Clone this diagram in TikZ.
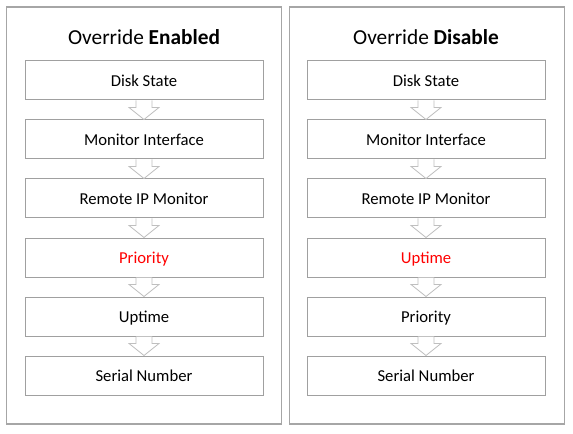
\documentclass[tikz,border=0pt]{standalone}
\usepackage{fontspec}
\setmainfont{Carlito}
\usetikzlibrary{positioning, calc}
\definecolor{framegray}{HTML}{A6A6A6}
\definecolor{boxgray}{HTML}{A0A0A0}
\definecolor{arrowgray}{HTML}{BFBFBF}
\tikzset{
	frame/.style={rectangle, draw=framegray, line width=1pt, minimum width=206.25pt, minimum height=312.75pt},
	stepbox/.style={rectangle, draw=boxgray, line width=0.75pt, minimum width=178.5pt, minimum height=29.25pt, text height=11pt, text depth=1.5pt, font=\fontsize{12.5}{15}\selectfont},
	title/.style={font=\fontsize{16}{19}\selectfont},
	hot/.style={text=red},
	blockarrow/.style={draw=arrowgray, fill=white, line width=0.6pt, line join=miter}
}
% block arrow from the bottom of #1 to the top of #2
\newcommand{\flowarrow}[2]{%
	\draw[blockarrow] ($(#1.south)+(-8,0)$) -- ($(#1.south)+(-8,7)$) -- ($(#1.south)+(-15,7)$) -- (#2.north) -- ($(#1.south)+(15,7)$) -- ($(#1.south)+(8,7)$) -- ($(#1.south)+(8,0)$);%
}

\begin{document}
\begin{tikzpicture}[x=0.75pt, y=-0.75pt]
	\useasboundingbox (0,0) rectangle (573,434);
	
	% left column
	\node [frame] (enabled) at (144,215.5) {};
	\node [title] (tenabled) at (144,37) {Override \textbf{Enabled}};
	\node [stepbox] (disk1) at (144,80.5) {Disk State};
	\node [stepbox, below = 14.25pt of disk1] (monitor1) {Monitor Interface};
	\node [stepbox, below = 14.25pt of monitor1] (remote1) {Remote IP Monitor};
	\node [stepbox, hot, below = 14.25pt of remote1] (priority1) {Priority};
	\node [stepbox, below = 14.25pt of priority1] (uptime1) {Uptime};
	\node [stepbox, below = 14.25pt of uptime1] (serial1) {Serial Number};
	
	\flowarrow{disk1}{monitor1}
	\flowarrow{monitor1}{remote1}
	\flowarrow{remote1}{priority1}
	\flowarrow{priority1}{uptime1}
	\flowarrow{uptime1}{serial1}
	
	% right column
	\node [frame] (disabled) at (427,215.5) {};
	\node [title] (tdisabled) at (426,37) {Override \textbf{Disable}};
	\node [stepbox] (disk2) at (426,80.5) {Disk State};
	\node [stepbox, below = 14.25pt of disk2] (monitor2) {Monitor Interface};
	\node [stepbox, below = 14.25pt of monitor2] (remote2) {Remote IP Monitor};
	\node [stepbox, hot, below = 14.25pt of remote2] (uptime2) {Uptime};
	\node [stepbox, below = 14.25pt of uptime2] (priority2) {Priority};
	\node [stepbox, below = 14.25pt of priority2] (serial2) {Serial Number};
	
	\flowarrow{disk2}{monitor2}
	\flowarrow{monitor2}{remote2}
	\flowarrow{remote2}{uptime2}
	\flowarrow{uptime2}{priority2}
	\flowarrow{priority2}{serial2}
\end{tikzpicture}
\end{document}
